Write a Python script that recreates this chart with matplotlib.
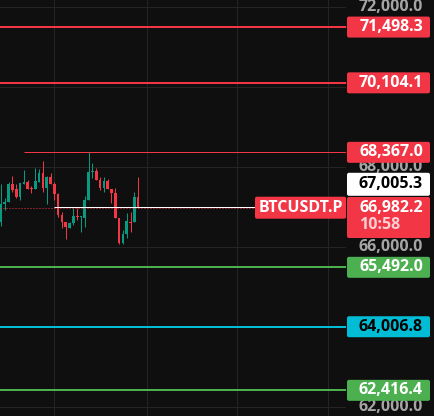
import matplotlib
matplotlib.use('Agg')
import matplotlib.pyplot as plt
from matplotlib.patches import FancyBboxPatch

# ---- data ----
opens  = [66625, 67075, 67125, 67575, 67450, 67250, 67575, 67625, 67475, 67450,
          67625, 67850, 67475, 67750, 67575, 67325, 66800, 66625, 66475, 66600,
          66775, 66762, 66725, 67175, 67875, 67900, 67675, 67475, 67650, 67450,
          67350, 66725, 66100, 66325, 66625, 66625, 67250]
highs  = [67575, 67225, 67625, 67775, 67575, 67600, 67925, 67675, 67525, 67975,
          67950, 68150, 67775, 67850, 67625, 67350, 66875, 66625, 66625, 66975,
          66975, 66775, 67275, 68367, 68100, 67975, 67750, 67750, 67700, 67450,
          67475, 66725, 66425, 66850, 66875, 67375, 67750]
lows   = [66525, 66925, 67125, 67375, 67225, 67175, 67575, 67450, 67350, 67450,
          67625, 67375, 67075, 67575, 67175, 66750, 66475, 66200, 66475, 66550,
          66675, 66375, 66500, 67175, 67725, 67675, 67425, 67375, 67450, 67100,
          66725, 66075, 66075, 66225, 66375, 66625, 66982.2]
closes = [67075, 67125, 67575, 67425, 67250, 67600, 67625, 67450, 67450, 67650,
          67850, 67475, 67750, 67575, 67325, 66800, 66625, 66500, 66600, 66775,
          66750, 66775, 67175, 67875, 67900, 67675, 67475, 67650, 67450, 67350,
          66725, 66100, 66325, 66650, 66612, 67250, 66982.2]

level_prices = [71498.3, 70104.1, 68367.0, 65492.0, 64006.8, 62416.4]
level_labels = ['71,498.3', '70,104.1', '68,367.0', '65,492.0', '64,006.8', '62,416.4']
level_colors = ['#F23645', '#F23645', '#F23645', '#4CAF50', '#00BCD4', '#4CAF50']
level_text_colors = ['white', 'white', 'white', 'white', 'black', 'white']
level_widths = [2, 2, 1, 2, 2, 2]          # px
level_start = [None, None, 6, None, None, None]  # candle index where ray starts

ray_price = 67005.3
ray_label = '67,005.3'
last_price = 66982.2
last_label = '66,982.2'
countdown = '10:58'
symbol = 'BTCUSDT.P'

grid_prices = [62000, 64000, 66000, 68000, 70000, 72000]
# visible price-scale labels (70,000 and 64,000 are hidden behind level boxes)
axis_ticks = [62000, 66000, 68000, 72000]
axis_tick_labels = ['62,000.0', '66,000.0', '68,000.0', '72,000.0']

BG = '#0f0f0f'
GRID = '#242424'
UP = '#089981'
DOWN = '#F23645'
FONT = 'Open Sans'

W, H = 435, 416
PLOT_W = 346
fig = plt.figure(figsize=(W / 100, H / 100), dpi=100, facecolor=BG)
ax = fig.add_axes([0, 0, PLOT_W / W, 1], facecolor=BG)
ps = fig.add_axes([PLOT_W / W, 0, (W - PLOT_W) / W, 1], facecolor=BG, sharey=ax)

px_per_bar = 3.81
ax.set_xlim(-1 / px_per_bar, (PLOT_W - 1) / px_per_bar)
ax.set_ylim(72175 - 25 * H, 72175)
ps.set_xlim(0, W - PLOT_W)
for a in (ax, ps):
    a.set_axis_off()

pu = 25.0  # price units per pixel
lw1 = 0.72  # 1 px in points

# grid
for p in grid_prices:
    ax.axhline(p, color=GRID, lw=lw1, zorder=0)
for xg in [13.9, 38.3, 61.9, 85.8]:
    ax.axvline(xg, color=GRID, lw=lw1, zorder=0)

# candles
for i in range(len(opens)):
    o, h, l, c = opens[i], highs[i], lows[i], closes[i]
    col = UP if c >= o else DOWN
    ax.vlines(i, l, h, color=col, lw=lw1, zorder=3)
    bot = min(o, c)
    ht = max(abs(c - o), pu)
    ax.bar(i, ht, bottom=bot, width=0.7, color=col, edgecolor=col, lw=0, zorder=4)

# level lines
xmin, xmax = ax.get_xlim()
for p, col, w, st in zip(level_prices, level_colors, level_widths, level_start):
    x0 = xmin if st is None else st
    ax.hlines(p, x0, xmax, color=col, lw=w * lw1, zorder=5)

# last price dotted line and white ray
sym_left_x = (255 - 1) / px_per_bar
ax.hlines(last_price, xmin, sym_left_x, color=DOWN, lw=lw1, linestyles=(0, (1, 2)), zorder=5)
ax.hlines(ray_price, (54 - 1) / px_per_bar, sym_left_x, color='white', lw=lw1, zorder=6)

fs = 11.5
sym_box = FancyBboxPatch((sym_left_x, last_price - 11 * pu), (PLOT_W - 255) / px_per_bar, 22 * pu,
                         boxstyle='round,pad=0,rounding_size=0.5', fc=DOWN, ec='none', zorder=8,
                         mutation_aspect=pu * px_per_bar)
ax.add_patch(sym_box)
ax.text((sym_left_x + xmax) / 2, last_price, symbol, color='white', fontsize=fs, family=FONT,
        weight='bold', ha='center', va='center', zorder=9)

# price scale tick labels
TX = 423 - PLOT_W
for p, t in zip(axis_ticks, axis_tick_labels):
    ps.text(TX, p, t, color='#a5a5a5', fontsize=fs, family=FONT, weight='bold',
            ha='right', va='center', zorder=2)

BX0, BW = 347 - PLOT_W, 83

def price_box(center_price, height_px, fc):
    b = FancyBboxPatch((BX0, center_price - height_px / 2 * pu), BW, height_px * pu,
                       boxstyle='round,pad=0,rounding_size=2', fc=fc, ec='none', zorder=5,
                       mutation_aspect=pu)
    ps.add_patch(b)

for p, t, col, tc in zip(level_prices, level_labels, level_colors, level_text_colors):
    price_box(p, 21, col)
    ps.text(TX, p, t, color=tc, fontsize=fs, family=FONT, weight='bold',
            ha='right', va='center', zorder=6)

# ray label (shifted up to avoid overlap)
ray_center = ray_price + 22.5 * pu
price_box(ray_center, 23, 'white')
ps.text(TX, ray_center, ray_label, color='black', fontsize=fs, family=FONT, weight='bold',
        ha='right', va='center', zorder=6)

# last price label with countdown
lp_center = last_price - 9.8 * pu
price_box(lp_center, 41, DOWN)
ps.text(TX, last_price, last_label, color='white', fontsize=fs, family=FONT, weight='bold',
        ha='right', va='center', zorder=6)
ps.text(359 - PLOT_W, last_price - 17 * pu, countdown, color='#fbd0d4', fontsize=fs, family=FONT,
        weight='bold', ha='left', va='center', zorder=6)

fig.savefig('out.png', dpi=100, facecolor=BG)
